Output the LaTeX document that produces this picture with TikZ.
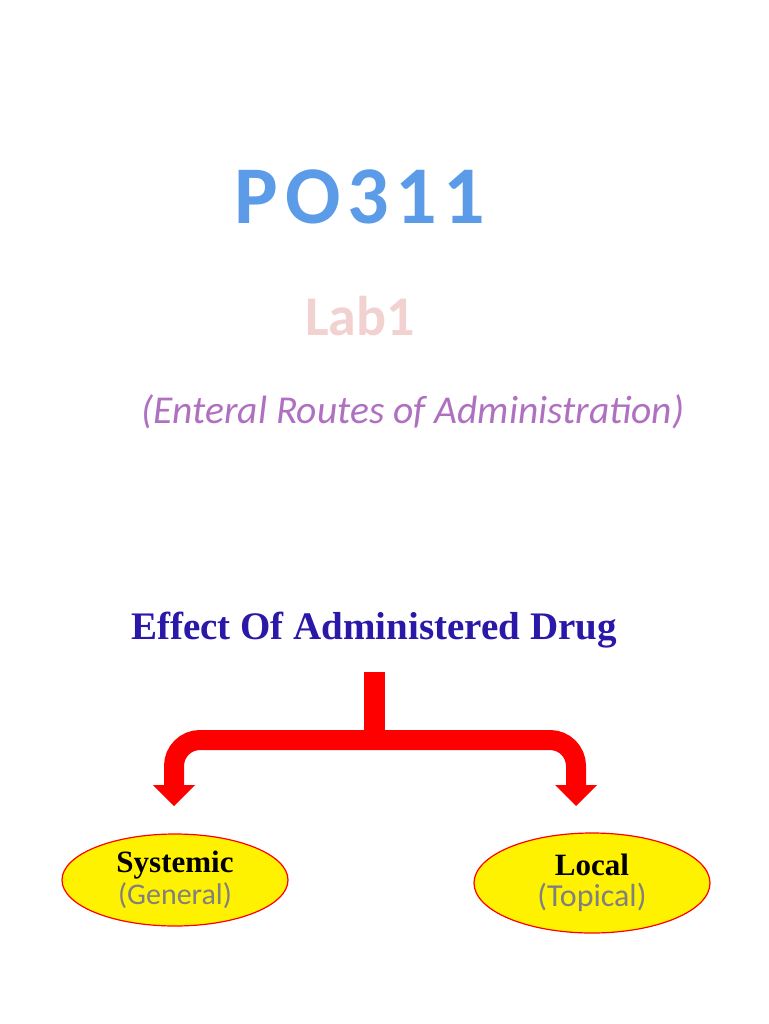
\documentclass[tikz,border=0pt]{standalone}
\usepackage{fontspec}
\setmainfont{Liberation Serif}
\newfontfamily\carl{Carlito}
\newfontfamily\carlsp[LetterSpace=8]{Carlito}
\usetikzlibrary{shapes.geometric}
\definecolor{tblue}{HTML}{5B9BE8}
\definecolor{tpink}{HTML}{F2D2D0}
\definecolor{tpurp}{HTML}{B070C0}
\definecolor{dblue}{HTML}{2A18A8}
\definecolor{ared}{HTML}{FF0000}
\begin{document}
\begin{tikzpicture}[x=1pt,y=-1pt,
  oval/.style={ellipse,draw=ared,line width=1.2pt,fill=yellow,minimum width=226pt,minimum height=92pt,align=center,inner sep=0pt},
  bar/.style={draw=ared,line width=20pt,rounded corners=26pt}]
\useasboundingbox (0,0) rectangle (768,1024);
\fill[white] (0,0) rectangle (768,1024);
\node (t1) at (360,197) {\carlsp\bfseries\fontsize{82}{82}\selectfont\color{tblue}PO311};
\node (t2) at (360,316) {\carl\bfseries\fontsize{56}{56}\selectfont\color{tpink}Lab1};
\node (t3) at (413,412) {\carl\itshape\fontsize{39.5}{40}\selectfont\color{tpurp}(Enteral Routes of Administration)};
\node (t4) at (374,630) {\bfseries\fontsize{39}{39}\selectfont\color{dblue}Effect Of Administered Drug};
\coordinate (top) at (374,672);
\coordinate (j) at (374,740);
\coordinate (lh) at (174,787);
\coordinate (rh) at (576,787);
\draw[bar] (lh) -- (174,740) -- (576,740) -- (rh);
\draw[ared,line width=21pt] (top) -- (j);
\fill[ared] (153,785) -- (195,785) -- (174,806) -- cycle;
\fill[ared] (555,785) -- (597,785) -- (576,806) -- cycle;
\node[oval] (sys) at (175,880) {\bfseries\fontsize{31}{34}\selectfont Systemic\\[2pt]{\carl\mdseries\fontsize{30}{30}\selectfont\color{gray}(General)}};
\node[oval,minimum width=236pt,minimum height=100pt] (loc) at (592,883) {\bfseries\fontsize{31}{34}\selectfont Local\\[6pt]{\carl\mdseries\fontsize{32}{32}\selectfont\color{gray}(Topical)}};
\end{tikzpicture}
\end{document}
